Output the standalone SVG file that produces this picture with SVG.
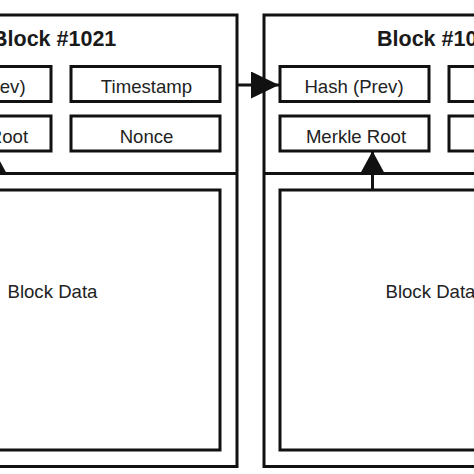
<svg xmlns="http://www.w3.org/2000/svg" width="474" height="474" viewBox="0 0 474 474">
  <style>
    .blk { fill: #ffffff; stroke: #111111; stroke-width: 3; }
    .fld { fill: #ffffff; stroke: #111111; stroke-width: 3; }
    .sep { stroke: #111111; stroke-width: 3; fill: none; }
    .con { stroke: #111111; stroke-width: 3; fill: none; }
    .title { font-family: "Liberation Sans", Arial, sans-serif; font-weight: bold; font-size: 21.5px; fill: #1a1a1a; }
    .lbl { font-family: "Liberation Sans", Arial, sans-serif; font-size: 18.6px; fill: #222222; text-anchor: middle; }
    .data { font-family: "Liberation Sans", Arial, sans-serif; font-size: 18.6px; fill: #222222; }
  </style>
  <defs>
    <marker id="arrH" viewBox="0 0 28 27" refX="28" refY="13.5" markerWidth="28" markerHeight="27" markerUnits="userSpaceOnUse" orient="auto">
      <path d="M0,0 L28,13.5 L0,27 z" fill="#111111"/>
    </marker>
    <marker id="arrV" viewBox="0 0 24 26" refX="24" refY="13" markerWidth="24" markerHeight="26" markerUnits="userSpaceOnUse" orient="auto">
      <path d="M0,0 L24,13 L0,26 z" fill="#111111"/>
    </marker>
  </defs>
  <rect width="474" height="474" fill="#ffffff"/>

  <g id="block-1021">
    <rect class="blk" x="-114" y="15" width="351" height="451.5"/>
    <text class="title" x="-8" y="46">Block #1021</text>
    <line class="sep" x1="-114" y1="173.5" x2="237" y2="173.5"/>
    <g id="b1021-hash">
      <rect class="fld" x="-98" y="66.5" width="149" height="35"/>
      <text class="lbl" x="-24" y="93">Hash (Prev)</text>
    </g>
    <g id="b1021-timestamp">
      <rect class="fld" x="71" y="66.5" width="149" height="35"/>
      <text class="lbl" x="146.5" y="93">Timestamp</text>
    </g>
    <g id="b1021-merkle">
      <rect class="fld" x="-98" y="116" width="149" height="35"/>
      <text class="lbl" x="-22" y="142.5">Merkle Root</text>
    </g>
    <g id="b1021-nonce">
      <rect class="fld" x="71" y="116" width="149" height="35"/>
      <text class="lbl" x="146.5" y="142.5">Nonce</text>
    </g>
    <g id="b1021-data">
      <rect class="fld" x="-98" y="190" width="318" height="260"/>
      <text class="data" x="7.5" y="298">Block Data</text>
    </g>
  </g>

  <g id="block-1022">
    <rect class="blk" x="264" y="15" width="351" height="451.5"/>
    <text class="title" x="377" y="46">Block #1022</text>
    <line class="sep" x1="264" y1="173.5" x2="615" y2="173.5"/>
    <g id="b1022-hash">
      <rect class="fld" x="280" y="66.5" width="149" height="35"/>
      <text class="lbl" x="354" y="93">Hash (Prev)</text>
    </g>
    <g id="b1022-timestamp">
      <rect class="fld" x="449" y="66.5" width="149" height="35"/>
    </g>
    <g id="b1022-merkle">
      <rect class="fld" x="280" y="116" width="149" height="35"/>
      <text class="lbl" x="356" y="142.5">Merkle Root</text>
    </g>
    <g id="b1022-nonce">
      <rect class="fld" x="449" y="116" width="149" height="35"/>
    </g>
    <g id="b1022-data">
      <rect class="fld" x="280" y="190" width="318" height="260"/>
      <text class="data" x="385.5" y="298">Block Data</text>
    </g>
  </g>

  <g id="connectors">
    <line class="con" x1="237" y1="85" x2="279" y2="85" marker-end="url(#arrH)"/>
    <line class="con" x1="372.5" y1="190" x2="372.5" y2="151" marker-end="url(#arrV)"/>
    <line class="con" x1="-5.5" y1="190" x2="-5.5" y2="151" marker-end="url(#arrV)"/>
  </g>
</svg>
